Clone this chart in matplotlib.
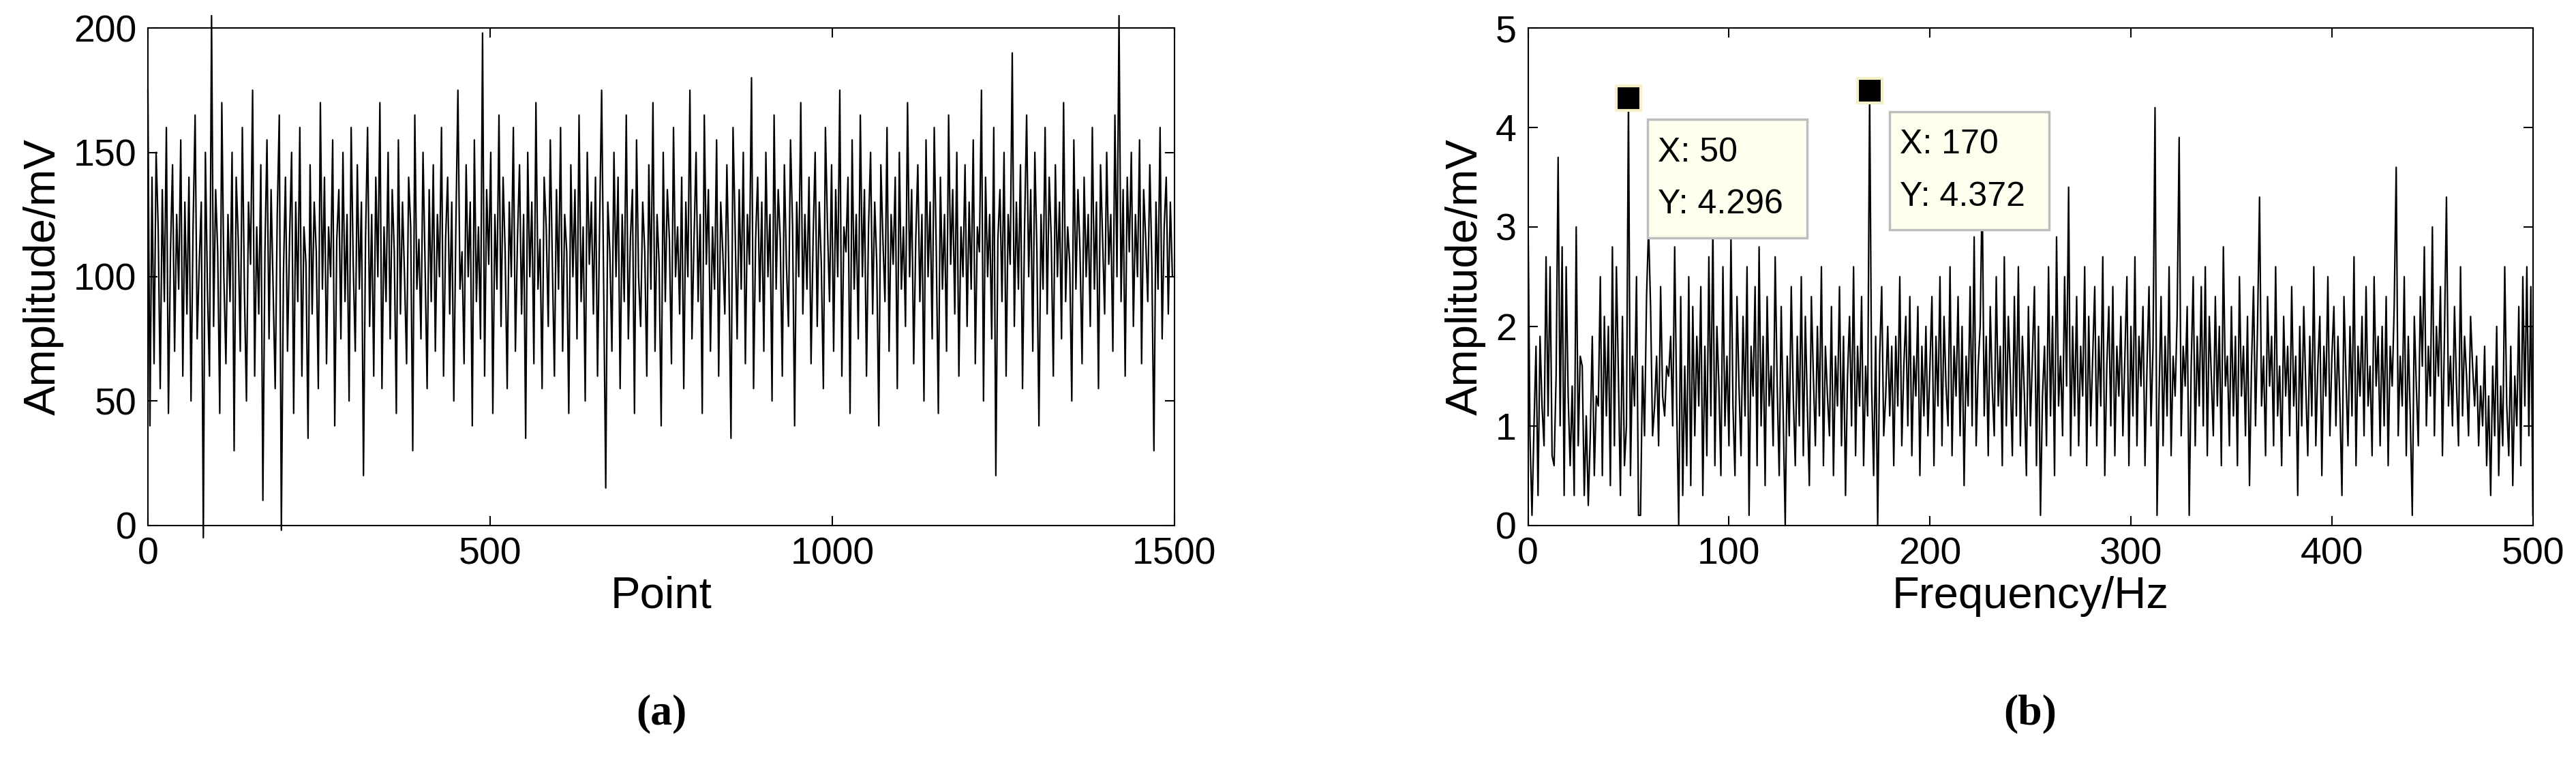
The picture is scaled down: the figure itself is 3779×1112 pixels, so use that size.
import numpy as np
import matplotlib.pyplot as plt

plt.rcParams['font.family'] = ['Liberation Sans', 'DejaVu Sans']

# (a) time signal, one value every 3 points
sig_step = 3
sig_vals = [
    175,40,140,65,150,120,55,135,90,160,45,110,145,70,125,95,155,60,130,85,
    140,50,120,165,75,105,130,-5,150,95,60,205,80,135,110,45,170,100,65,125,
    90,150,30,140,115,70,160,95,50,130,105,175,60,120,85,145,10,110,155,75,
    135,95,55,125,165,-2,100,140,70,115,150,45,130,90,160,60,120,105,35,145,
    85,130,110,55,170,95,140,65,120,100,155,40,115,135,75,150,90,125,50,160,
    105,70,145,95,130,20,115,160,80,125,60,140,100,170,55,120,90,150,75,135,
    110,45,155,85,130,100,65,140,120,30,165,95,115,75,150,105,55,135,90,145,
    70,125,100,160,60,115,140,85,130,50,120,175,95,110,65,145,100,130,40,155,
    90,120,75,198,60,135,105,150,45,125,95,165,80,140,110,55,130,100,160,70,
    115,145,85,125,35,150,100,130,65,170,95,115,55,140,120,80,155,105,60,135,
    95,160,70,125,110,45,145,100,135,75,165,90,120,50,150,105,130,85,140,60,
    120,175,95,15,130,110,70,150,100,140,55,125,90,165,75,115,135,45,155,100,
    80,130,110,60,145,95,170,70,125,105,40,150,90,135,115,65,160,100,120,85,
    140,55,130,100,175,75,115,150,90,125,45,165,105,135,70,120,95,155,60,130,
    110,85,145,100,35,160,120,75,135,95,150,65,125,105,180,55,115,140,90,130,
    70,150,100,125,50,165,95,135,115,60,145,105,80,155,120,40,130,100,170,85,
    125,95,140,65,115,150,80,130,105,55,160,120,90,145,70,135,100,175,60,120,
    110,140,45,155,95,125,75,165,100,135,60,120,150,85,130,105,40,145,115,90,
    160,70,125,105,140,55,150,95,120,80,170,100,135,65,115,145,90,125,50,155,
    100,130,75,160,110,45,140,95,125,70,165,105,135,85,150,60,120,100,145,80,
    130,95,155,65,120,110,175,50,140,100,125,75,160,20,115,135,90,150,60,125,
    105,190,80,130,95,145,55,120,165,100,135,70,150,110,40,125,95,160,85,140,
    115,60,145,100,130,75,170,90,120,105,50,155,95,135,110,65,140,100,125,80,
    160,95,130,55,145,115,85,150,105,125,70,165,100,205,90,135,60,140,110,150,
    80,125,100,155,65,135,115,90,145,105,30,130,95,160,75,120,140,85,130,100,
]

# (b) spectrum, 0..500 Hz, tenths of mV
spec_tenths = [
    32,9,1,10,18,3,19,12,8,27,11,26,7,6,15,37,10,28,3,26,13,6,14,3,30,
    8,17,16,3,11,2,9,19,5,13,12,25,5,21,11,20,4,28,8,26,15,3,21,6,10,
    43,5,17,12,25,1,1,16,9,23,30,22,9,12,17,8,24,13,11,16,15,19,10,28,12,
    0,23,3,16,6,25,4,22,9,19,12,24,3,18,7,27,11,30,6,20,14,5,26,10,17,
    8,29,12,5,23,14,7,21,11,26,1,18,13,24,6,28,10,19,4,23,12,16,8,27,14,
    5,22,11,0,17,9,24,13,6,19,10,25,7,21,12,4,23,15,8,20,11,26,6,18,13,
    9,22,5,17,12,24,8,19,3,15,21,10,26,7,18,12,23,6,16,11,44,14,5,19,0,
    17,24,9,13,20,11,18,6,19,12,25,8,16,21,10,23,7,17,13,22,5,18,11,20,9,
    16,23,6,19,12,25,8,21,14,10,26,7,18,13,23,9,20,4,17,12,24,10,29,8,16,
    20,34,11,19,7,22,14,9,25,12,18,6,27,10,21,15,7,23,11,26,8,19,13,5,22,
    10,17,24,6,20,1,13,18,8,26,11,21,5,29,12,17,9,25,14,34,7,20,11,23,8,
    18,13,26,6,21,10,17,24,8,19,12,27,5,16,22,10,24,7,18,13,21,9,17,25,6,
    20,11,27,8,19,14,22,6,16,24,10,18,42,1,13,23,8,19,11,26,7,17,13,21,39,
    9,18,14,22,1,16,25,8,19,12,24,10,26,7,21,15,9,23,12,20,6,28,14,17,8,
    22,11,19,6,25,13,18,9,21,4,16,24,10,20,33,12,17,7,23,14,19,8,26,11,16,
    6,21,13,18,9,24,12,17,3,20,10,22,14,7,19,11,26,8,16,21,5,18,13,25,9,
    17,22,10,19,12,3,23,15,8,20,11,27,6,18,13,21,9,24,12,16,7,25,14,19,8,
    20,10,23,6,18,14,22,36,9,17,12,25,7,19,11,1,21,14,8,23,16,28,10,18,13,
    30,9,20,15,24,7,19,33,12,17,10,22,14,8,26,11,19,15,9,21,16,12,17,8,14,
    10,18,6,13,3,16,9,20,5,14,8,26,12,7,18,4,15,10,22,6,25,12,26,9,24,
    1,
]
tip_freqs = [50, 170]
tip_amps = [4.296, 4.372]

sig_x = np.arange(len(sig_vals)) * sig_step
freqs = np.arange(len(spec_tenths))
amps = np.array(spec_tenths) / 10.0
for f, a in zip(tip_freqs, tip_amps):
    amps[f] = a

fig = plt.figure(figsize=(37.8, 11.12), dpi=100)
ax1 = fig.add_axes([0.0574, 0.307, 0.3984, 0.656])
ax2 = fig.add_axes([0.593, 0.307, 0.390, 0.656])

ax1.plot(sig_x, sig_vals, color='black', lw=1.6, clip_on=False)
ax1.set_xlim(0, 1500)
ax1.set_ylim(0, 200)
ax1.set_xticks([0, 500, 1000, 1500])
ax1.set_yticks([0, 50, 100, 150, 200])
ax1.set_xlabel('Point', fontsize=47)
ax1.set_ylabel('Amplitude/mV', fontsize=47, labelpad=10)

ax2.plot(freqs, amps, color='black', lw=1.6)
ax2.set_xlim(0, 500)
ax2.set_ylim(0, 5)
ax2.set_xticks([0, 100, 200, 300, 400, 500])
ax2.set_yticks([0, 1, 2, 3, 4, 5])
ax2.set_xlabel('Frequency/Hz', fontsize=47)
ax2.set_ylabel('Amplitude/mV', fontsize=47, labelpad=10)

# data tips
ax2.plot(tip_freqs, tip_amps, 's', ms=26, mfc='black', mec='#f5f0c8', mew=3)
tip_boxes = [(59.6, 2.89, 79.4, 1.19), (180, 2.97, 79.4, 1.19)]
for (bx, by, bw, bh), f, a in zip(tip_boxes, tip_freqs, tip_amps):
    ax2.add_patch(plt.Rectangle((bx, by), bw, bh, facecolor='#ffffee',
                                edgecolor='#bdbdbd', lw=2.5, zorder=4))
    ax2.text(bx + 5, by + bh * 0.72, f'X: {f}', fontsize=36, va='center', zorder=5)
    ax2.text(bx + 5, by + bh * 0.28, f'Y: {a}', fontsize=36, va='center', zorder=5)

for ax in (ax1, ax2):
    ax.tick_params(direction='in', top=True, right=True, labelsize=40,
                   length=10, width=1.5, pad=12)
    for s in ax.spines.values():
        s.set_linewidth(1.5)

fig.text(0.0574 + 0.3984 / 2, 0.058, '(a)', ha='center', va='center', fontsize=46,
         family=['Liberation Serif'], fontweight='bold')
fig.text(0.593 + 0.390 / 2, 0.058, '(b)', ha='center', va='center', fontsize=46,
         family=['Liberation Serif'], fontweight='bold')

fig.savefig('out.png', dpi=100)
